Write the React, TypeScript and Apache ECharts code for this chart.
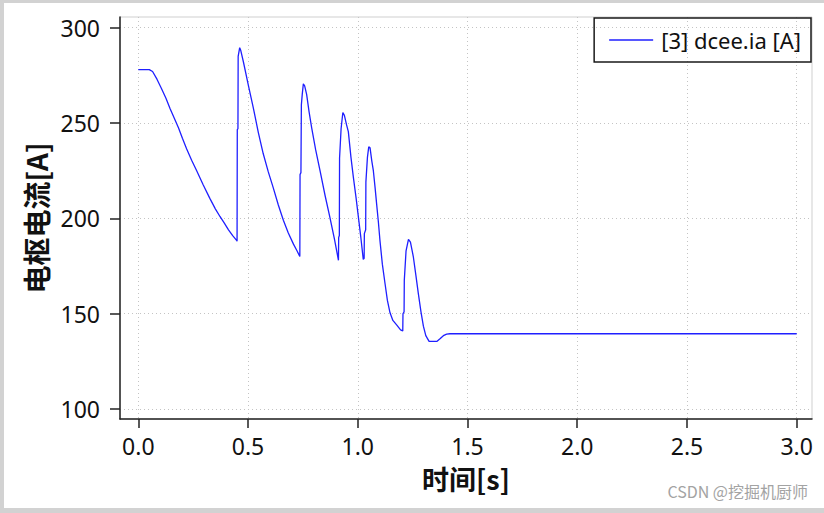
import React, { useEffect, useRef } from 'react';
import * as echarts from 'echarts';

// 时间 [s]
const timeValues = [
  0, 0.05, 0.065, 0.085, 0.106, 0.126, 0.145, 0.164, 0.183, 0.201, 0.22, 0.243, 0.266, 0.296,
  0.326, 0.351, 0.372, 0.392, 0.411, 0.43, 0.448, 0.45, 0.451, 0.454, 0.455, 0.462, 0.467,
  0.479, 0.502, 0.524, 0.547, 0.569, 0.592, 0.615, 0.638, 0.661, 0.683, 0.707, 0.723, 0.736,
  0.737, 0.741, 0.743, 0.747, 0.752, 0.758, 0.767, 0.778, 0.79, 0.808, 0.828, 0.851, 0.873,
  0.894, 0.912, 0.913, 0.916, 0.917, 0.924, 0.932, 0.939, 0.949, 0.957, 0.969, 0.98, 0.992,
  1.003, 1.014, 1.025, 1.029, 1.03, 1.036, 1.037, 1.044, 1.05, 1.056, 1.064, 1.071, 1.079,
  1.086, 1.094, 1.101, 1.112, 1.124, 1.135, 1.147, 1.16, 1.178, 1.195, 1.205, 1.206, 1.211,
  1.212, 1.22, 1.231, 1.24, 1.253, 1.265, 1.276, 1.288, 1.299, 1.31, 1.325, 1.36, 1.376,
  1.39, 1.405, 1.42, 3.0,
];

// 电枢电流 [A]
const currentValues = [
  278, 278, 277, 273, 268, 263, 257.5, 252.5, 247.5, 242, 236.5, 230.5, 225, 217.5,
  210.5, 205, 201, 197.5, 194, 191, 188.5, 188, 246.5, 247, 285, 289.5, 288,
  282, 269.5, 258, 245, 234, 224.5, 216, 207, 199, 192.5, 186.5, 183, 180,
  223, 224, 259.5, 265, 270.5, 269.5, 265, 256, 247.5, 236, 225, 212, 200.5,
  189, 178, 190, 191, 231.5, 247, 255.5, 254, 249, 245.5, 232, 221.5, 211,
  200.5, 190, 178.5, 179, 192, 194, 219, 232, 237.5, 237, 230, 225, 216,
  207.5, 198, 188.5, 176, 166, 157, 150.5, 146.5, 144, 141.5, 141, 150, 151,
  167.5, 183, 189, 187.5, 180, 170, 160.5, 151, 143.5, 138.5, 135.5, 135.5, 137,
  138.5, 139.3, 139.5, 139.5,
];

const xTicks = [0, 0.5, 1.0, 1.5, 2.0, 2.5, 3.0];
const yTicks = [100, 150, 200, 250, 300];
const seriesName = '[3] dcee.ia [A]';

const CJK = '"Noto Sans CJK SC", sans-serif';
const LATIN = '"Noto Sans", sans-serif';

const App: React.FC = () => {
  const chartRef = useRef<HTMLDivElement>(null);

  useEffect(() => {
    if (!chartRef.current) return;
    const chart = echarts.init(chartRef.current, undefined, { renderer: 'svg' });

    const option: echarts.EChartsOption = {
      animation: false,
      backgroundColor: '#ffffff',
      grid: {
        left: 120,
        right: 12,
        top: 17,
        bottom: 94,
        show: true,
        borderColor: '#cfcfcf',
        borderWidth: 1,
      },
      legend: {
        right: 13,
        top: 18,
        data: [seriesName],
        icon: 'rect',
        borderColor: '#1a1a1a',
        borderWidth: 1.5,
        padding: [11, 10, 11, 15],
        itemWidth: 44,
        itemHeight: 1.5,
        textStyle: {
          fontFamily: LATIN,
          fontSize: 22,
          color: '#111',
          padding: [0, 0, 0, 3],
        },
      },
      xAxis: {
        type: 'value',
        min: -0.0834,
        max: 3.0697,
        name: '时间[s]',
        nameLocation: 'middle',
        nameGap: 46,
        nameTextStyle: {
          fontFamily: CJK,
          fontSize: 27,
          fontWeight: 'bold',
          color: '#111',
        },
        axisLine: { onZero: false, lineStyle: { color: '#222', width: 1.5 } },
        axisTick: {
          length: 9,
          customValues: xTicks,
          lineStyle: { color: '#222', width: 1.5 },
        },
        axisLabel: {
          customValues: xTicks,
          margin: 15,
          fontFamily: LATIN,
          fontSize: 23,
          color: '#111',
          formatter: (v: number) => v.toFixed(1),
        },
        splitLine: {
          show: true,
          lineStyle: { color: '#c4c4c4', type: [1, 3], width: 1 },
        },
      },
      yAxis: {
        type: 'value',
        min: 94.8,
        max: 305.6,
        name: '电枢电流[A]',
        nameLocation: 'middle',
        nameGap: 68,
        nameTextStyle: {
          fontFamily: CJK,
          fontSize: 28,
          fontWeight: 'bold',
          color: '#111',
        },
        axisLine: { show: true, onZero: false, lineStyle: { color: '#222', width: 1.5 } },
        axisTick: {
          show: true,
          length: 10,
          customValues: yTicks,
          lineStyle: { color: '#222', width: 1.5 },
        },
        axisLabel: {
          customValues: yTicks,
          margin: 20,
          fontFamily: LATIN,
          fontSize: 23,
          color: '#111',
        },
        splitLine: {
          show: true,
          lineStyle: { color: '#c4c4c4', type: [1, 3], width: 1 },
        },
      },
      graphic: [
        { type: 'rect', silent: true, shape: { x: 0, y: 0, width: 824, height: 3 }, style: { fill: '#d2d2d2' } },
        { type: 'rect', silent: true, shape: { x: 0, y: 0, width: 4, height: 513 }, style: { fill: '#d2d2d2' } },
        { type: 'rect', silent: true, shape: { x: 0, y: 508, width: 824, height: 5 }, style: { fill: '#d2d2d2' } },
        {
          type: 'text',
          silent: true,
          right: 16,
          top: 483,
          style: {
            text: 'CSDN @挖掘机厨师',
            fontFamily: CJK,
            fontSize: 16,
            fill: '#a3a3a3',
          },
        },
      ],
      series: [
        {
          name: seriesName,
          type: 'line',
          symbol: 'none',
          silent: true,
          lineStyle: { color: '#1f1fff', width: 1.3 },
          itemStyle: { color: '#1f1fff' },
          data: timeValues.map((t, i) => [t, currentValues[i]]),
        },
      ],
    };

    chart.setOption(option);
    return () => {
      chart.dispose();
    };
  }, []);

  return (
    <div
      ref={chartRef}
      style={{ position: 'absolute', left: 0, top: 0, width: 824, height: 513 }}
    />
  );
};

export default App;
